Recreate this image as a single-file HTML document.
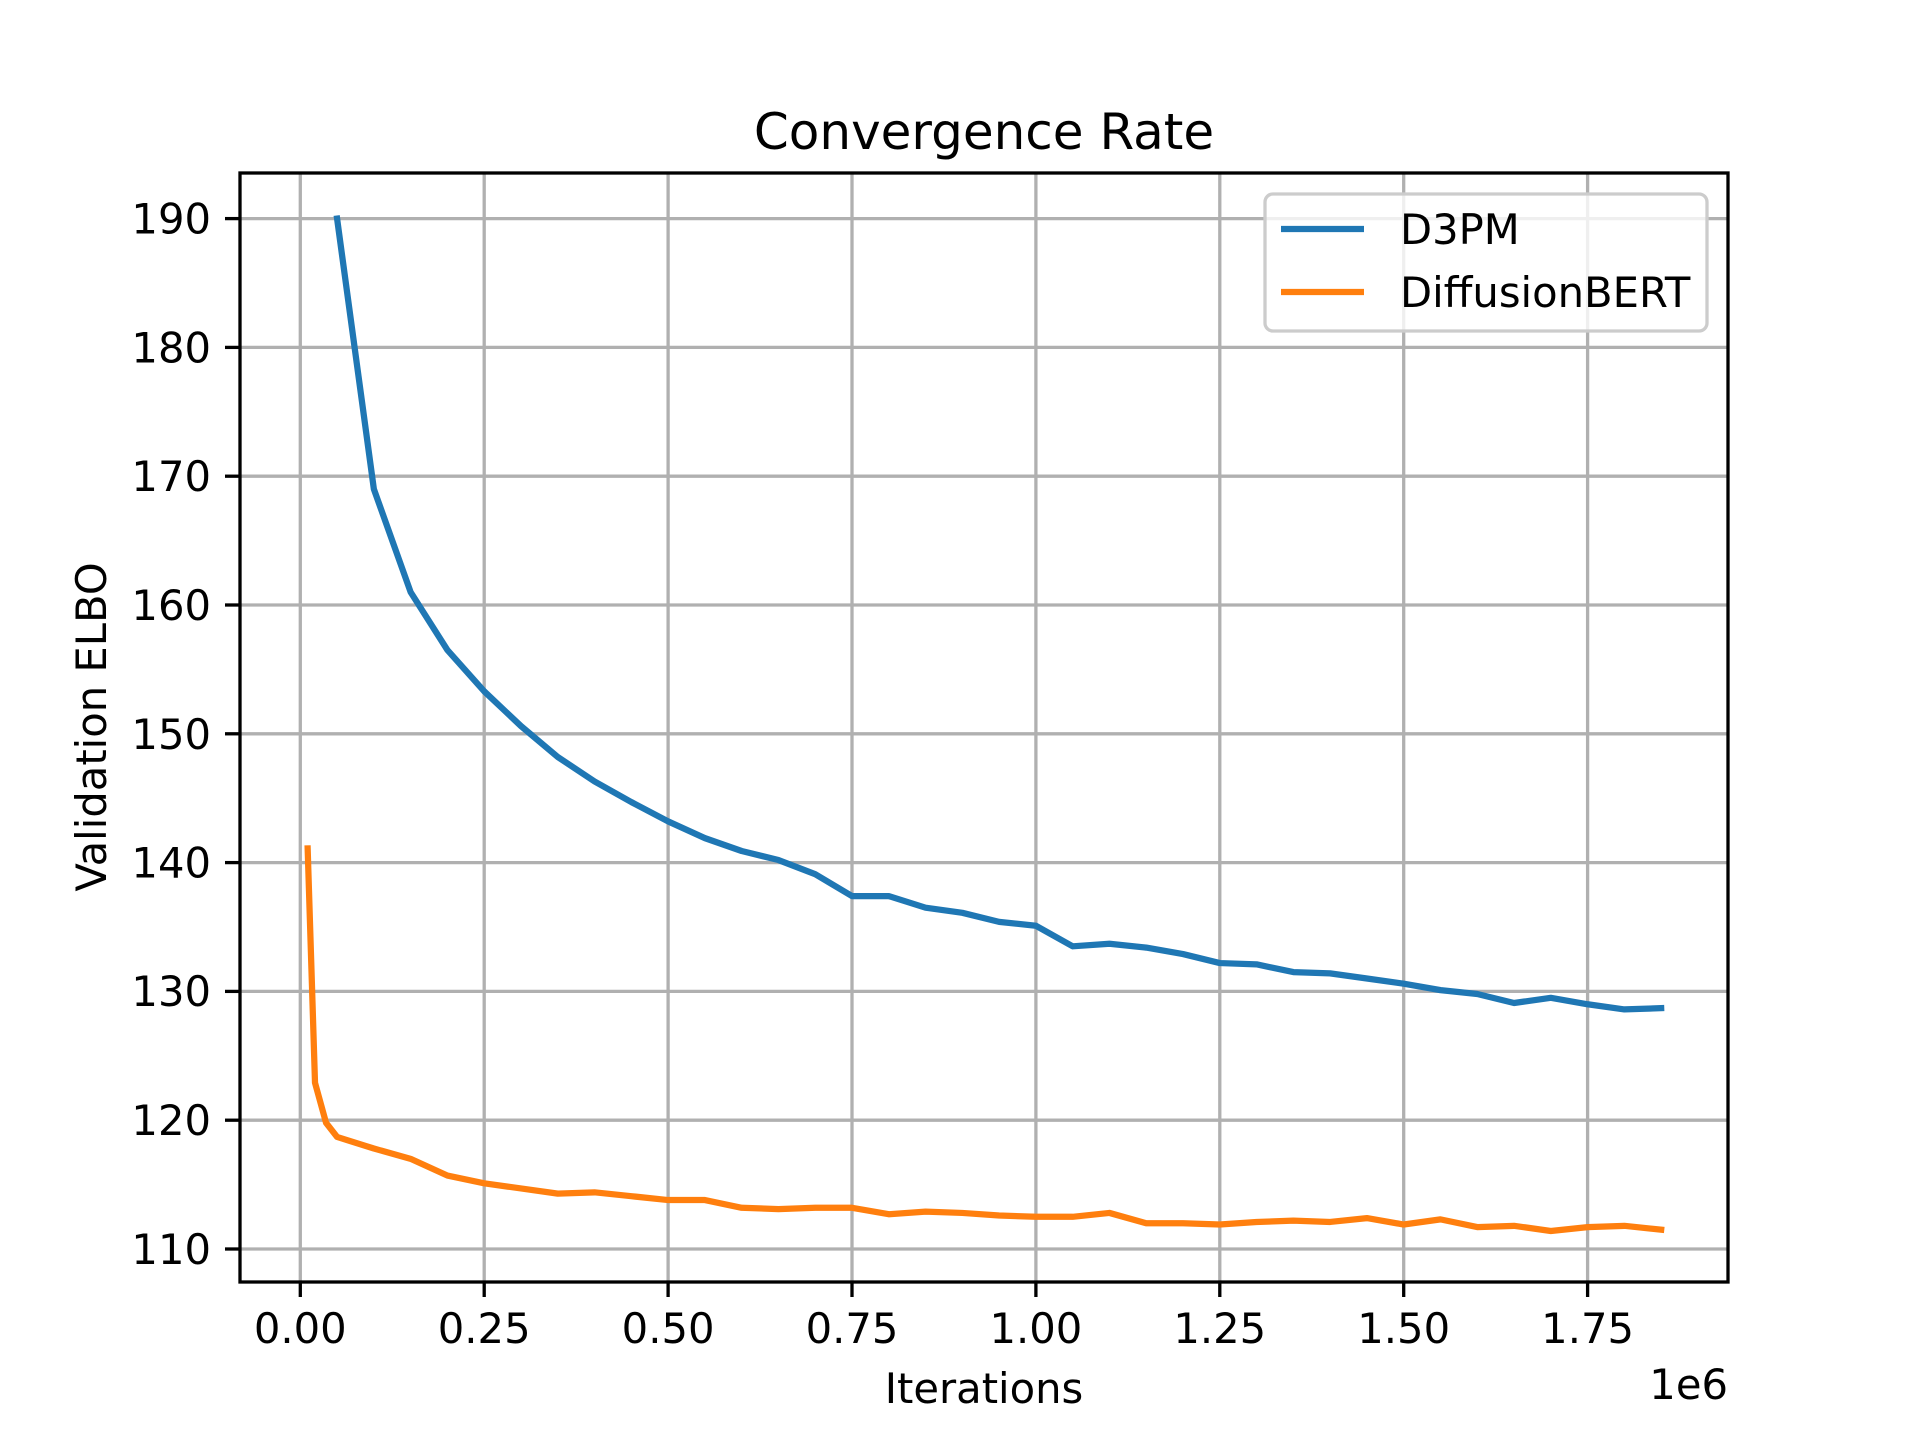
<!DOCTYPE html>
<html><head><meta charset="utf-8"><style>
html,body{margin:0;padding:0;background:#fff;}
svg text{font-family:"DejaVu Sans","Liberation Sans",sans-serif;fill:#000;}
</style></head><body>
<svg width="1920" height="1440" xmlns="http://www.w3.org/2000/svg">
<rect width="1920" height="1440" fill="#fff"/>
<g stroke="#b0b0b0" stroke-width="3.3">
<line x1="300.3" y1="173" x2="300.3" y2="1282"/>
<line x1="484.2" y1="173" x2="484.2" y2="1282"/>
<line x1="668.1" y1="173" x2="668.1" y2="1282"/>
<line x1="852" y1="173" x2="852" y2="1282"/>
<line x1="1035.9" y1="173" x2="1035.9" y2="1282"/>
<line x1="1219.8" y1="173" x2="1219.8" y2="1282"/>
<line x1="1403.7" y1="173" x2="1403.7" y2="1282"/>
<line x1="1587.6" y1="173" x2="1587.6" y2="1282"/>
<line x1="240" y1="1249" x2="1728" y2="1249"/>
<line x1="240" y1="1120.2" x2="1728" y2="1120.2"/>
<line x1="240" y1="991.4" x2="1728" y2="991.4"/>
<line x1="240" y1="862.6" x2="1728" y2="862.6"/>
<line x1="240" y1="733.8" x2="1728" y2="733.8"/>
<line x1="240" y1="605" x2="1728" y2="605"/>
<line x1="240" y1="476.2" x2="1728" y2="476.2"/>
<line x1="240" y1="347.4" x2="1728" y2="347.4"/>
<line x1="240" y1="218.6" x2="1728" y2="218.6"/>
</g>
<g transform="translate(300.3,1249) scale(735.6,-12.88) translate(0,-110)" fill="none" stroke-linejoin="round" stroke-linecap="square">
<polyline vector-effect="non-scaling-stroke" stroke="#1f77b4" stroke-width="6.25" points="0.05,190 0.1,169 0.15,161 0.2,156.5 0.25,153.3 0.3,150.6 0.35,148.2 0.4,146.3 0.45,144.7 0.5,143.2 0.55,141.9 0.6,140.9 0.65,140.2 0.7,139.1 0.75,137.4 0.8,137.4 0.85,136.5 0.9,136.1 0.95,135.4 1.0,135.1 1.05,133.5 1.1,133.7 1.15,133.4 1.2,132.9 1.25,132.2 1.3,132.1 1.35,131.5 1.4,131.4 1.45,131.0 1.5,130.6 1.55,130.1 1.6,129.8 1.65,129.1 1.7,129.5 1.75,129.0 1.8,128.6 1.85,128.7"/>
<polyline vector-effect="non-scaling-stroke" stroke="#ff7f0e" stroke-width="6.25" points="0.01,141.1 0.02,122.9 0.035,119.8 0.05,118.7 0.1,117.8 0.15,117.0 0.2,115.7 0.25,115.1 0.3,114.7 0.35,114.3 0.4,114.4 0.45,114.1 0.5,113.8 0.55,113.8 0.6,113.2 0.65,113.1 0.7,113.2 0.75,113.2 0.8,112.7 0.85,112.9 0.9,112.8 0.95,112.6 1.0,112.5 1.05,112.5 1.1,112.8 1.15,112.0 1.2,112.0 1.25,111.9 1.3,112.1 1.35,112.2 1.4,112.1 1.45,112.4 1.5,111.9 1.55,112.3 1.6,111.7 1.65,111.8 1.7,111.4 1.75,111.7 1.8,111.8 1.85,111.5"/>
</g>
<rect x="240" y="173" width="1488" height="1109" fill="none" stroke="#000" stroke-width="3.3"/>
<g stroke="#000" stroke-width="3.3">
<line x1="300.3" y1="1282" x2="300.3" y2="1297"/>
<line x1="484.2" y1="1282" x2="484.2" y2="1297"/>
<line x1="668.1" y1="1282" x2="668.1" y2="1297"/>
<line x1="852" y1="1282" x2="852" y2="1297"/>
<line x1="1035.9" y1="1282" x2="1035.9" y2="1297"/>
<line x1="1219.8" y1="1282" x2="1219.8" y2="1297"/>
<line x1="1403.7" y1="1282" x2="1403.7" y2="1297"/>
<line x1="1587.6" y1="1282" x2="1587.6" y2="1297"/>
<line x1="225" y1="1249" x2="240" y2="1249"/>
<line x1="225" y1="1120.2" x2="240" y2="1120.2"/>
<line x1="225" y1="991.4" x2="240" y2="991.4"/>
<line x1="225" y1="862.6" x2="240" y2="862.6"/>
<line x1="225" y1="733.8" x2="240" y2="733.8"/>
<line x1="225" y1="605" x2="240" y2="605"/>
<line x1="225" y1="476.2" x2="240" y2="476.2"/>
<line x1="225" y1="347.4" x2="240" y2="347.4"/>
<line x1="225" y1="218.6" x2="240" y2="218.6"/>
</g>
<g font-size="41.7" text-anchor="middle">
<text x="300.3" y="1343">0.00</text>
<text x="484.2" y="1343">0.25</text>
<text x="668.1" y="1343">0.50</text>
<text x="852" y="1343">0.75</text>
<text x="1035.9" y="1343">1.00</text>
<text x="1219.8" y="1343">1.25</text>
<text x="1403.7" y="1343">1.50</text>
<text x="1587.6" y="1343">1.75</text>
</g>
<g font-size="41.7" text-anchor="end">
<text x="211" y="1264">110</text>
<text x="211" y="1135">120</text>
<text x="211" y="1006">130</text>
<text x="211" y="877.6">140</text>
<text x="211" y="748.8">150</text>
<text x="211" y="620">160</text>
<text x="211" y="491.2">170</text>
<text x="211" y="362.4">180</text>
<text x="211" y="233.6">190</text>
<text x="1728" y="1399">1e6</text>
</g>
<text x="984" y="1403" font-size="41.7" text-anchor="middle">Iterations</text>
<text transform="translate(106,727) rotate(-90)" font-size="41.7" text-anchor="middle">Validation ELBO</text>
<text x="984" y="149" font-size="50" text-anchor="middle">Convergence Rate</text>
<rect x="1265" y="194" width="442" height="137" rx="8" fill="#fff" fill-opacity="0.8" stroke="#cccccc" stroke-width="3.3"/>
<line x1="1281" y1="229" x2="1364" y2="229" stroke="#1f77b4" stroke-width="6.25"/>
<line x1="1281" y1="292" x2="1364" y2="292" stroke="#ff7f0e" stroke-width="6.25"/>
<text x="1400" y="244" font-size="41.7">D3PM</text>
<text x="1400" y="307" font-size="41.7">DiffusionBERT</text>
</svg>
</body></html>
